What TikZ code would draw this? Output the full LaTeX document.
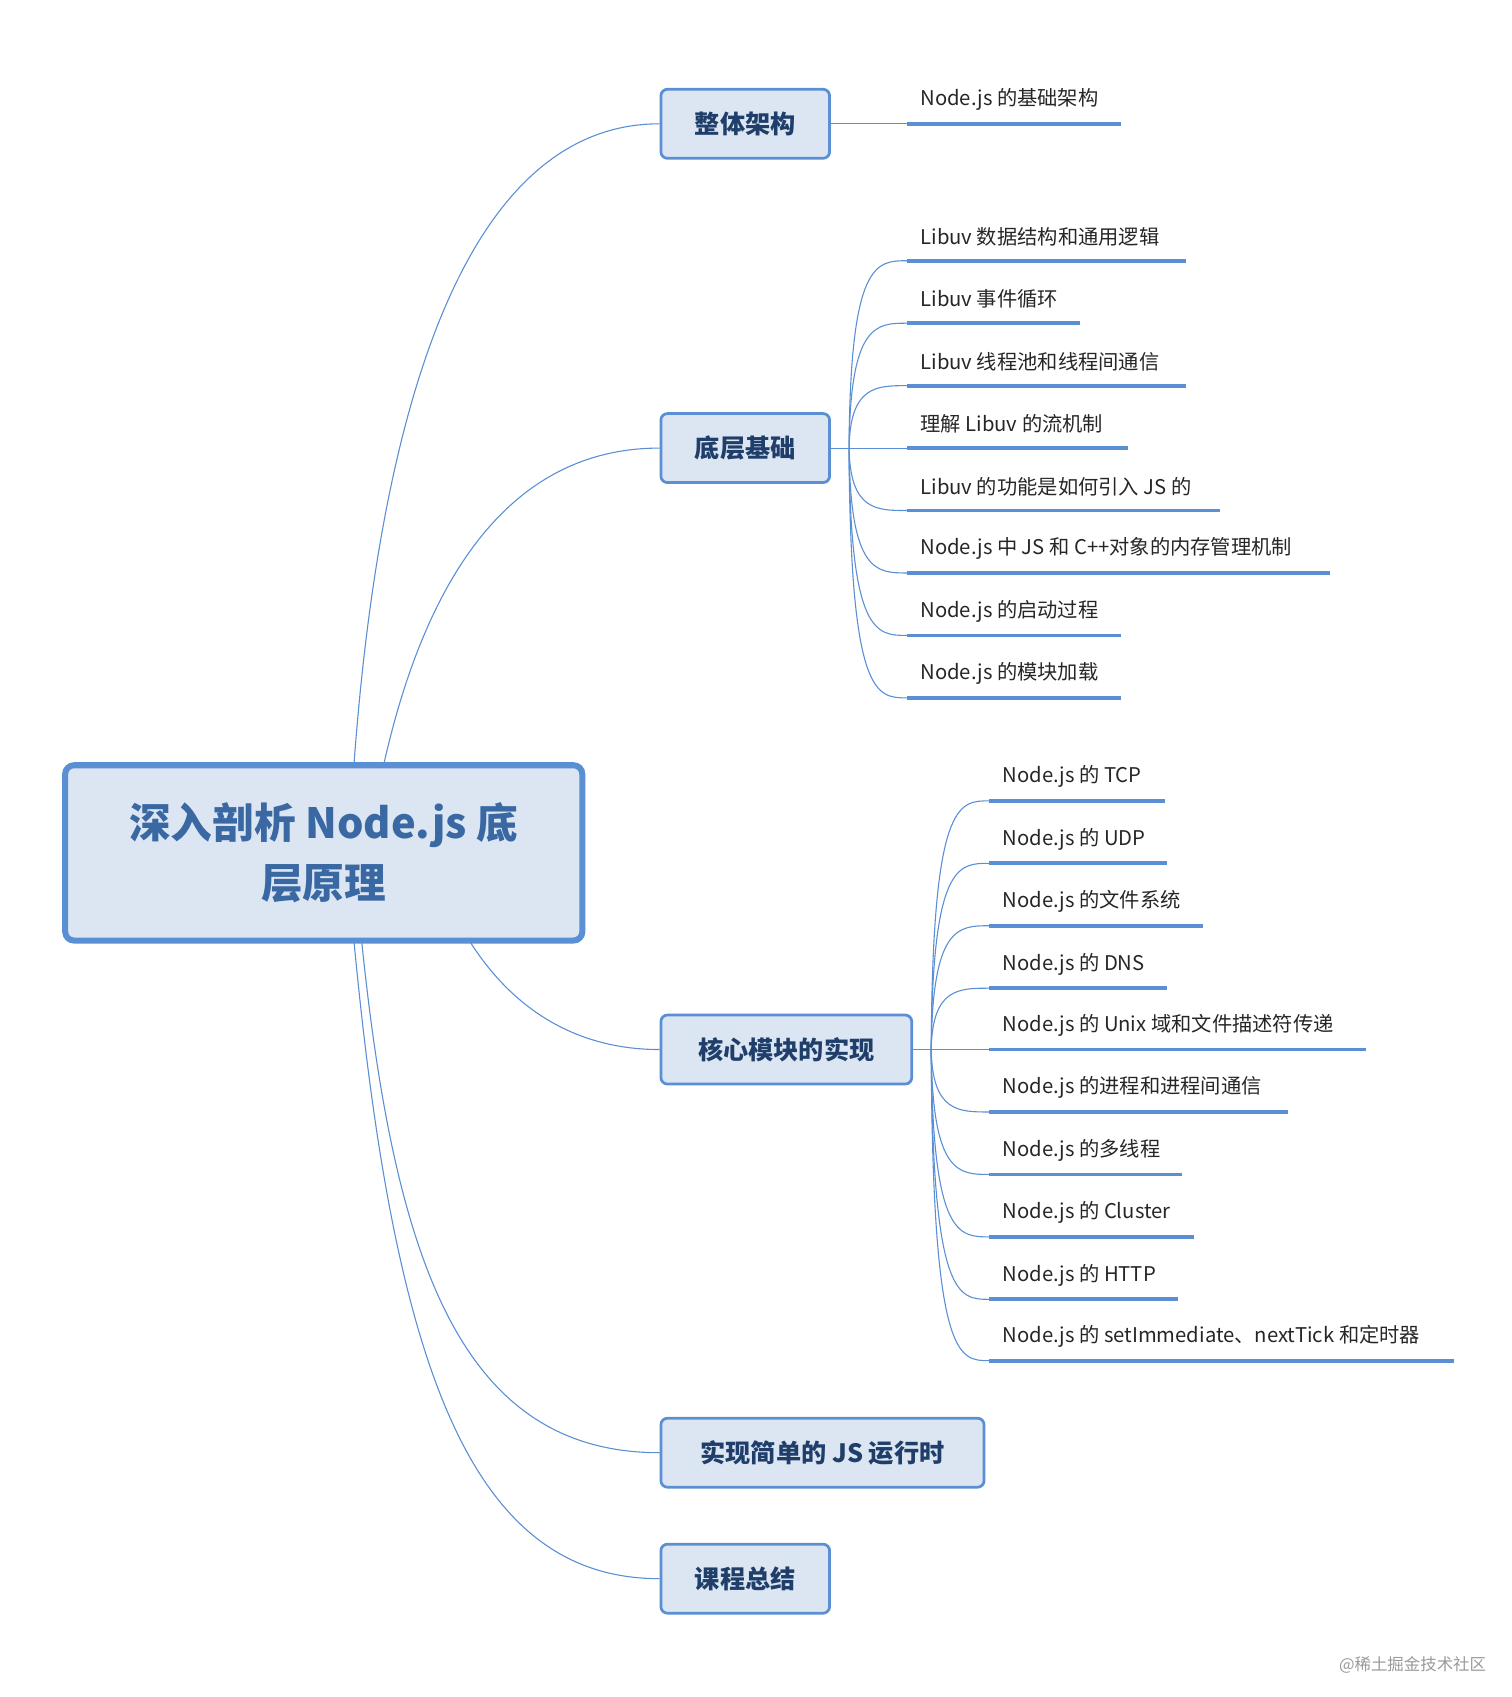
\documentclass[tikz,border=0pt]{standalone}
\usepackage{fontspec}
\setmainfont{Noto Sans CJK SC}
\newfontfamily\cjk{Noto Sans CJK SC}
\begin{document}
\begin{tikzpicture}[x=1pt,y=-1pt,
  conn/.style={draw=lineblue,line width=1pt},
  uline/.style={draw=lineblue,line width=3.5pt},
  branchbox/.style={draw=lineblue,line width=2.5pt,fill=boxfill,rounded corners=6pt,minimum height=63pt,inner xsep=12pt,font=\fontsize{23}{28}\selectfont\bfseries,text=titleblue,anchor=west},
  leaf/.style={anchor=west,font=\fontsize{18.5}{22}\selectfont,text=black!85,inner sep=0pt}]
\definecolor{lineblue}{HTML}{5B8FD4}
\definecolor{boxfill}{HTML}{DCE6F3}
\definecolor{titleblue}{HTML}{1F3F6A}
\definecolor{roottext}{HTML}{3A68A3}
\useasboundingbox (0,0) rectangle (1380,1549);
\node[draw=lineblue,line width=5.5pt,fill=boxfill,rounded corners=8pt,minimum width=472pt,minimum height=160pt,align=center,font=\fontsize{38}{55}\selectfont\bfseries,text=roottext] (root) at (295.5,778.5) {深入剖析 Node.js 底\\层原理};
\node[branchbox,minimum width=154pt] (b1) at (602,113) {整体架构};
\node[branchbox,minimum width=154pt] (b2) at (602,409) {底层基础};
\node[branchbox,minimum width=229pt] (b3) at (602,958) {核心模块的实现};
\node[branchbox,minimum width=295pt] (b4) at (602,1326) {实现简单的 JS 运行时};
\node[branchbox,minimum width=154pt] (b5) at (602,1441) {课程总结};
% root connectors
\coordinate (r1) at (323,699); \coordinate (r2) at (350,699);
\coordinate (r3) at (428,858); \coordinate (r4) at (330,858); \coordinate (r5) at (323,858);
\draw[conn] (r1) .. controls (350,330) and (440,113) .. (b1.west);
\draw[conn] (r2) .. controls (390,520) and (470,409) .. (b2.west);
\draw[conn] (r3) .. controls (470,925) and (530,958) .. (b3.west);
\draw[conn] (r4) .. controls (360,1150) and (420,1326) .. (b4.west);
\draw[conn] (r5) .. controls (360,1250) and (430,1441) .. (b5.west);
% branch 1
\coordinate (l1s) at (828,113); \coordinate (l1e) at (1023,113);
\draw[conn] (b1.east) -- (l1s);
\draw[uline] (l1s) -- (l1e);
\node[leaf] (l1) at (840,91) {Node.js 的基础架构};
% branch 2
\coordinate (j2) at (775,409);
\draw[conn] (b2.east) -- (j2);
\foreach \y/\e/\t [count=\i] in {238/1083/Libuv 数据结构和通用逻辑,295/986/Libuv 事件循环,352/1083/Libuv 线程池和线程间通信,409/1030/理解 Libuv 的流机制,466/1114/Libuv 的功能是如何引入 JS 的,523/1214/Node.js 中 JS 和 C++对象的内存管理机制,580/1023/Node.js 的启动过程,637/1023/Node.js 的模块加载}{
  \coordinate (s2\i) at (828,\y); \coordinate (e2\i) at (\e,\y);
  \draw[conn] (j2) .. controls (776,\y) and (800,\y) .. (s2\i);
  \draw[uline] (s2\i) -- (e2\i);
  \node[leaf] (t2\i) at (840,\y-22) {\t};
}
% branch 3
\coordinate (j3) at (850,958);
\draw[conn] (b3.east) -- (j3);
\foreach \y/\e/\t [count=\i] in {731/1063/Node.js 的 TCP,788/1065/Node.js 的 UDP,845/1098/Node.js 的文件系统,902/1065/Node.js 的 DNS,958/1247/Node.js 的 Unix 域和文件描述符传递,1015/1176/Node.js 的进程和进程间通信,1072/1079/Node.js 的多线程,1129/1090/Node.js 的 Cluster,1186/1075/Node.js 的 HTTP,1242/1327/Node.js 的 setImmediate、nextTick 和定时器}{
  \coordinate (s3\i) at (903,\y); \coordinate (e3\i) at (\e,\y);
  \draw[conn] (j3) .. controls (851,\y) and (875,\y) .. (s3\i);
  \draw[uline] (s3\i) -- (e3\i);
  \node[leaf] (t3\i) at (915,\y-22) {\t};
}
\node[anchor=east,font=\fontsize{15}{18}\selectfont,text=black!40] (wm) at (1360,1520) {@稀土掘金技术社区};
\end{tikzpicture}
\end{document}
